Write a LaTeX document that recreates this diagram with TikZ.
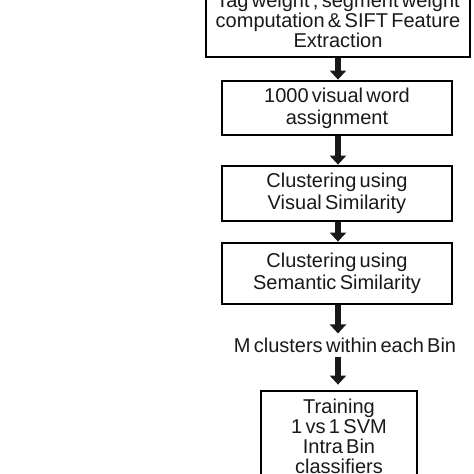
\documentclass[tikz,border=0pt]{standalone}
\usepackage{fontspec}
\setmainfont{Liberation Sans}[WordSpace=0.6]
\usetikzlibrary{arrows.meta}
\begin{document}
\begin{tikzpicture}[x=1pt,y=-1pt,
  stepbox/.style={draw=black, line width=2.8pt, align=center, inner sep=0pt, text=black!90},
  flowarrow/.style={line width=6pt, -{Triangle[width=16pt,length=9pt]}, black!90},
  txt/.style={inner sep=4pt, text=black!90}]
\useasboundingbox (0,0) rectangle (474,474);
\node[stepbox, minimum width=264pt, minimum height=74pt,
  font=\fontsize{20}{20}\selectfont] (b1) at (338,20)
  {Tag weight , segment weight\\computation \& SIFT Feature\\Extraction};
\node[stepbox, minimum width=230pt, minimum height=54pt,
  font=\fontsize{20}{22}\selectfont] (b2) at (337,108)
  {1000 visual word\\assignment};
\node[stepbox, minimum width=230pt, minimum height=55pt,
  font=\fontsize{20}{22.5}\selectfont] (b3) at (337,193.5)
  {Clustering using\\Visual Similarity};
\node[stepbox, minimum width=230pt, minimum height=61pt,
  font=\fontsize{20}{22}\selectfont] (b4) at (337,273.5)
  {Clustering using\\Semantic Similarity};
\node[txt, font=\fontsize{20}{22}\selectfont] (m) at (345,345) {M clusters within each Bin};
\node[stepbox, minimum width=156pt, minimum height=90pt,
  font=\fontsize{20}{20}\selectfont] (b5) at (339,436)
  {Training\\1 vs 1 SVM\\Intra Bin\\classifiers};
\draw[flowarrow] (b1.south -| 338,0) -- (b2.north -| 338,0);
\draw[flowarrow] (b2.south -| 338,0) -- (b3.north -| 338,0);
\draw[flowarrow] (b3.south -| 338,0) -- (b4.north -| 338,0);
\draw[flowarrow] (b4.south -| 338,0) -- (m.north -| 338,0);
\draw[flowarrow, shorten >=5pt] (m.south -| 338,0) -- (b5.north -| 338,0);
\end{tikzpicture}
\end{document}
